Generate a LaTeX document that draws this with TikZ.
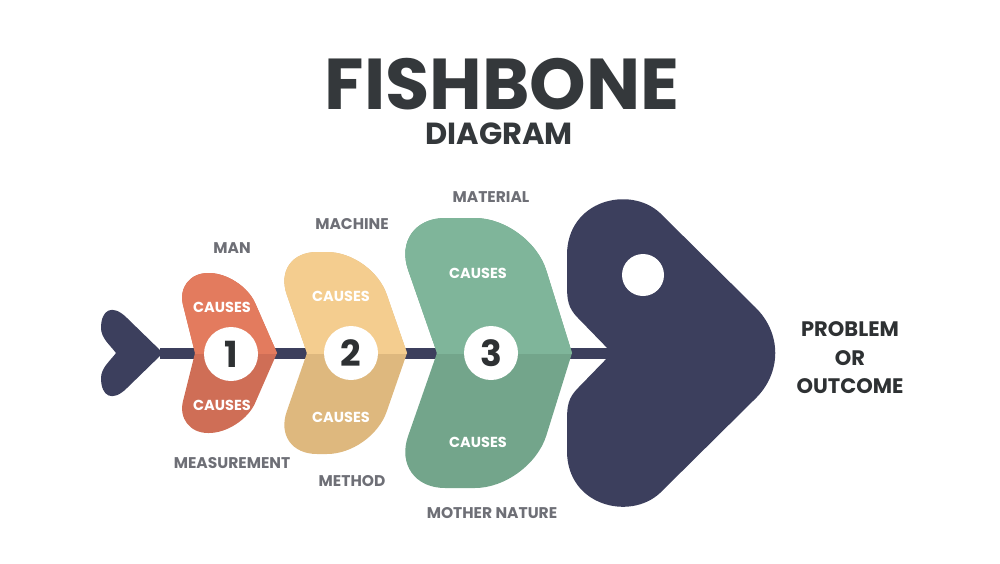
\documentclass[tikz,border=0pt]{standalone}
\usepackage{fontspec}
\setmainfont{Poppins}
\usetikzlibrary{calc}

\definecolor{navy}{RGB}{60,63,93}
\definecolor{titlegray}{RGB}{52,56,59}
\definecolor{labelgray}{RGB}{110,111,118}
\definecolor{numdark}{RGB}{46,49,51}
\definecolor{orangehi}{RGB}{227,123,94}
\definecolor{orangelo}{RGB}{207,110,86}
\definecolor{yellowhi}{RGB}{244,205,143}
\definecolor{yellowlo}{RGB}{222,184,126}
\definecolor{greenhi}{RGB}{127,181,154}
\definecolor{greenlo}{RGB}{115,165,139}

% chevron path: n notch, a/b top corners, t tip, c/d bottom corners
% #2 corner radius, #3 control distance
\newcommand{\segpath}[3]{(#1n)
  -- ($(#1a)!#2!(#1n)$) .. controls ($(#1a)!#3!(#1n)$) and ($(#1a)!#3!(#1b)$) .. ($(#1a)!#2!(#1b)$)
  -- ($(#1b)!#2!(#1a)$) .. controls ($(#1b)!#3!(#1a)$) and ($(#1b)!#3!(#1t)$) .. ($(#1b)!#2!(#1t)$)
  -- (#1t)
  -- ($(#1c)!#2!(#1t)$) .. controls ($(#1c)!#3!(#1t)$) and ($(#1c)!#3!(#1d)$) .. ($(#1c)!#2!(#1d)$)
  -- ($(#1d)!#2!(#1c)$) .. controls ($(#1d)!#3!(#1c)$) and ($(#1d)!#3!(#1n)$) .. ($(#1d)!#2!(#1n)$)
  -- cycle}

\begin{document}
\begin{tikzpicture}[x=1pt,y=-1pt,
    lbl/.style={font=\fontsize{15.5}{17}\selectfont\bfseries, text=labelgray},
    causes/.style={font=\fontsize{14.5}{16}\selectfont\bfseries, text=white},
    numcirc/.style={circle, fill=white, minimum size=54pt, inner sep=0pt,
      font=\fontsize{36}{36}\selectfont\bfseries, text=numdark}]
  \useasboundingbox (0,0) rectangle (1000,563);

  % title
  \node[font=\fontsize{72}{72}\selectfont\bfseries, text=titlegray, inner sep=1pt] (title) at (502,84) {FISHBONE};
  \node[font=\fontsize{30.5}{31}\selectfont\bfseries, text=titlegray, inner sep=1pt] (subtitle) at (499,134) {DIAGRAM};

  % spine
  \coordinate (tailtip) at (160,353);
  \coordinate (headnotch) at (612,353);
  \draw[navy, line width=11pt] (tailtip) -- (headnotch);

  % tail
  \fill[navy] (163,353) -- (127,318) .. controls (112,303) and (101,310) .. (101,328)
    .. controls (101,338) and (110,345) .. (116,353)
    .. controls (110,361) and (101,368) .. (101,378)
    .. controls (101,396) and (112,403) .. (127,388) -- cycle;

  % segment corners
  \coordinate (s1n) at (195,353); \coordinate (s1t) at (277,353);
  \coordinate (s1a) at (175,273); \coordinate (s1b) at (242,273);
  \coordinate (s1c) at (242,433); \coordinate (s1d) at (175,433);
  \coordinate (s2n) at (307,353); \coordinate (s2t) at (407,353);
  \coordinate (s2a) at (272,252); \coordinate (s2b) at (372,252);
  \coordinate (s2c) at (372,454); \coordinate (s2d) at (272,454);
  \coordinate (s3n) at (437,353); \coordinate (s3t) at (572,353);
  \coordinate (s3a) at (390,218); \coordinate (s3b) at (530,218);
  \coordinate (s3c) at (530,488); \coordinate (s3d) at (390,488);

  \fill[orangelo] \segpath{s1}{33pt}{15pt};
  \fill[yellowlo] \segpath{s2}{45pt}{20pt};
  \fill[greenlo] \segpath{s3}{55pt}{25pt};
  \begin{scope}
    \clip (0,0) rectangle (1000,353);
    \fill[orangehi] \segpath{s1}{33pt}{15pt};
    \fill[yellowhi] \segpath{s2}{45pt}{20pt};
    \fill[greenhi] \segpath{s3}{55pt}{25pt};
  \end{scope}

  % head
  \fill[navy] (612,353) -- (578,318) .. controls (568,308) and (567,300) .. (567,285)
    -- (567,255) .. controls (567,200) and (630,185) .. (660,213) -- (755,307)
    .. controls (782,333) and (782,373) .. (755,399) -- (660,493)
    .. controls (630,521) and (567,506) .. (567,451) -- (567,421)
    .. controls (567,406) and (568,398) .. (578,388) -- cycle;
  \fill[white] (643,275) circle[radius=21];

  % numbers
  \node[numcirc] (n1) at (231,354) {1};
  \node[numcirc] (n2) at (351,353) {2};
  \node[numcirc] (n3) at (491,353) {3};

  % causes
  \node[causes] (c1t) at (222,307) {CAUSES};
  \node[causes] (c1b) at (222,405) {CAUSES};
  \node[causes] (c2t) at (341,296) {CAUSES};
  \node[causes] (c2b) at (341,417) {CAUSES};
  \node[causes] (c3t) at (478,273) {CAUSES};
  \node[causes] (c3b) at (478,442) {CAUSES};

  % categories
  \node[lbl] (man) at (232,248) {MAN};
  \node[lbl] (machine) at (352,224) {MACHINE};
  \node[lbl] (material) at (491,197) {MATERIAL};
  \node[lbl] (measurement) at (232,463) {MEASUREMENT};
  \node[lbl] (method) at (352,481) {METHOD};
  \node[lbl] (mothernature) at (492,513) {MOTHER NATURE};

  % outcome
  \node[font=\fontsize{21}{28.5}\selectfont\bfseries, text=numdark, align=center] (outcome)
    at (850,358) {PROBLEM\\OR\\OUTCOME};
\end{tikzpicture}
\end{document}
